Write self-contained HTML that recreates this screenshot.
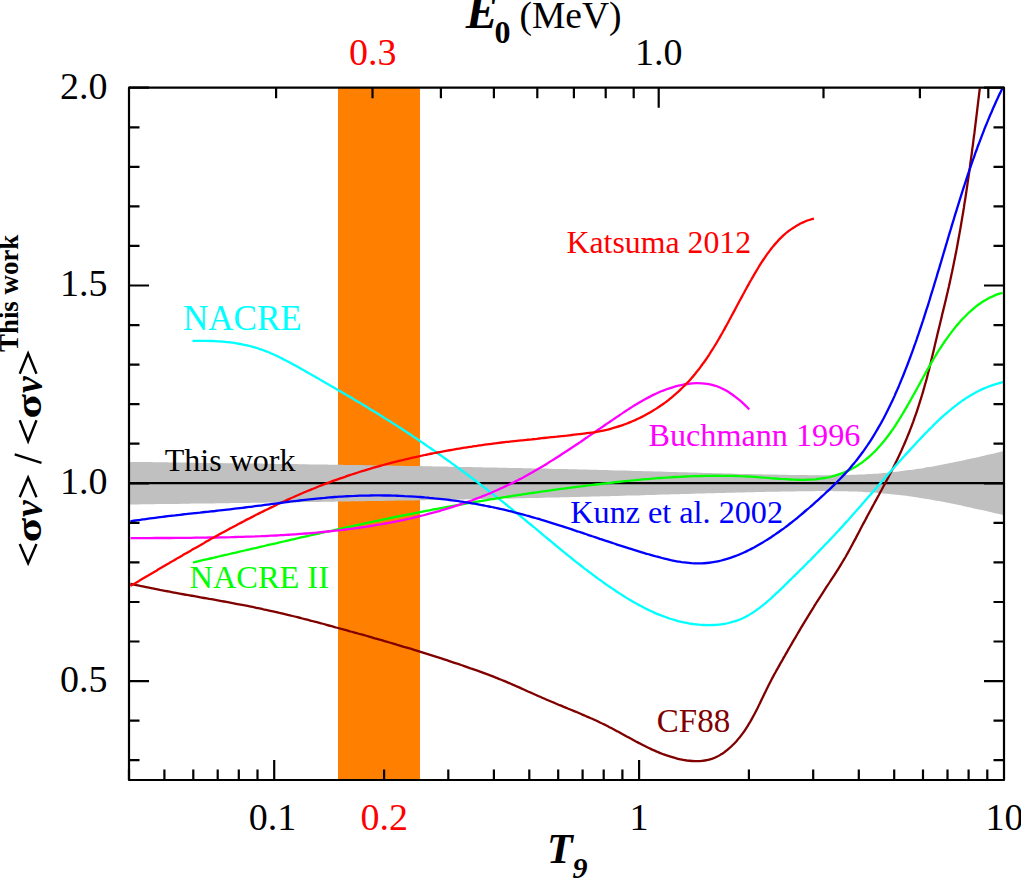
<!DOCTYPE html><html><head><meta charset="utf-8"><style>html,body{margin:0;padding:0;background:#fff;overflow:hidden}svg{display:block}text{font-family:"Liberation Serif",serif}</style></head><body>
<svg width="1021" height="878" viewBox="0 0 1021 878">
<rect x="338.0" y="87.7" width="82.0" height="692.3" fill="#FF8000"/>
<path d="M129.0,461.9 C129.8,461.9 132.3,461.9 134.0,461.9 C135.7,462.0 137.3,462.0 139.0,462.0 C140.7,462.0 142.3,462.0 144.0,462.1 C145.7,462.1 147.3,462.1 149.0,462.1 C150.7,462.2 152.3,462.2 154.0,462.2 C155.7,462.2 157.3,462.3 159.0,462.3 C160.7,462.3 162.3,462.3 164.0,462.3 C165.7,462.4 167.3,462.4 169.0,462.4 C170.7,462.4 172.3,462.5 174.0,462.5 C175.7,462.5 177.3,462.5 179.0,462.5 C180.7,462.6 182.3,462.6 184.0,462.6 C185.7,462.6 187.3,462.7 189.0,462.7 C190.7,462.7 192.3,462.7 194.0,462.8 C195.7,462.8 197.3,462.8 199.0,462.8 C200.7,462.8 202.3,462.9 204.0,462.9 C205.7,462.9 207.3,462.9 209.0,463.0 C210.7,463.0 212.3,463.0 214.0,463.0 C215.7,463.0 217.3,463.1 219.0,463.1 C220.7,463.1 222.3,463.1 224.0,463.2 C225.7,463.2 227.3,463.2 229.0,463.2 C230.7,463.3 232.3,463.3 234.0,463.3 C235.7,463.3 237.3,463.3 239.0,463.4 C240.7,463.4 242.3,463.4 244.0,463.4 C245.7,463.5 247.3,463.5 249.0,463.5 C250.7,463.5 252.3,463.6 254.0,463.6 C255.7,463.6 257.3,463.6 259.0,463.6 C260.7,463.7 262.3,463.7 264.0,463.7 C265.7,463.7 267.3,463.8 269.0,463.8 C270.7,463.8 272.3,463.8 274.0,463.9 C275.7,463.9 277.3,463.9 279.0,463.9 C280.7,464.0 282.3,464.0 284.0,464.0 C285.7,464.0 287.3,464.1 289.0,464.1 C290.7,464.1 292.3,464.1 294.0,464.1 C295.7,464.2 297.3,464.2 299.0,464.2 C300.7,464.2 302.3,464.3 304.0,464.3 C305.7,464.3 307.3,464.3 309.0,464.4 C310.7,464.4 312.3,464.4 314.0,464.4 C315.7,464.5 317.3,464.5 319.0,464.5 C320.7,464.5 322.3,464.6 324.0,464.6 C325.7,464.6 327.3,464.6 329.0,464.7 C330.7,464.7 332.3,464.7 334.0,464.7 C335.7,464.8 337.3,464.8 339.0,464.8 C340.7,464.8 342.3,464.9 344.0,464.9 C345.7,464.9 347.3,464.9 349.0,465.0 C350.7,465.0 352.3,465.0 354.0,465.1 C355.7,465.1 357.3,465.1 359.0,465.1 C360.7,465.2 362.3,465.2 364.0,465.2 C365.7,465.2 367.3,465.3 369.0,465.3 C370.7,465.3 372.3,465.3 374.0,465.4 C375.7,465.4 377.3,465.4 379.0,465.5 C380.7,465.5 382.3,465.5 384.0,465.5 C385.7,465.6 387.3,465.6 389.0,465.6 C390.7,465.6 392.3,465.7 394.0,465.7 C395.7,465.7 397.3,465.8 399.0,465.8 C400.7,465.8 402.3,465.8 404.0,465.9 C405.7,465.9 407.3,465.9 409.0,466.0 C410.7,466.0 412.3,466.0 414.0,466.0 C415.7,466.1 417.3,466.1 419.0,466.1 C420.7,466.2 422.3,466.2 424.0,466.2 C425.7,466.3 427.3,466.3 429.0,466.3 C430.7,466.3 432.3,466.4 434.0,466.4 C435.7,466.4 437.3,466.5 439.0,466.5 C440.7,466.5 442.3,466.6 444.0,466.6 C445.7,466.6 447.3,466.6 449.0,466.7 C450.7,466.7 452.3,466.7 454.0,466.8 C455.7,466.8 457.3,466.8 459.0,466.9 C460.7,466.9 462.3,466.9 464.0,467.0 C465.7,467.0 467.3,467.0 469.0,467.1 C470.7,467.1 472.3,467.1 474.0,467.2 C475.7,467.2 477.3,467.2 479.0,467.3 C480.7,467.3 482.3,467.3 484.0,467.4 C485.7,467.4 487.3,467.4 489.0,467.5 C490.7,467.5 492.3,467.5 494.0,467.6 C495.7,467.6 497.3,467.6 499.0,467.7 C500.7,467.7 502.3,467.7 504.0,467.8 C505.7,467.8 507.3,467.8 509.0,467.9 C510.7,467.9 512.3,467.9 514.0,468.0 C515.7,468.0 517.3,468.0 519.0,468.1 C520.7,468.1 522.3,468.2 524.0,468.2 C525.7,468.2 527.3,468.3 529.0,468.3 C530.7,468.3 532.3,468.4 534.0,468.4 C535.7,468.4 537.3,468.5 539.0,468.5 C540.7,468.6 542.3,468.6 544.0,468.6 C545.7,468.7 547.3,468.7 549.0,468.8 C550.7,468.8 552.3,468.8 554.0,468.9 C555.7,468.9 557.3,468.9 559.0,469.0 C560.7,469.0 562.3,469.1 564.0,469.1 C565.7,469.1 567.3,469.2 569.0,469.2 C570.7,469.3 572.3,469.3 574.0,469.3 C575.7,469.4 577.3,469.4 579.0,469.5 C580.7,469.5 582.3,469.5 584.0,469.6 C585.7,469.6 587.3,469.7 589.0,469.7 C590.7,469.8 592.3,469.8 594.0,469.8 C595.7,469.9 597.3,469.9 599.0,470.0 C600.7,470.0 602.3,470.1 604.0,470.1 C605.7,470.1 607.3,470.2 609.0,470.2 C610.7,470.3 612.3,470.3 614.0,470.4 C615.7,470.4 617.3,470.5 619.0,470.5 C620.7,470.5 622.3,470.6 624.0,470.6 C625.7,470.7 627.3,470.7 629.0,470.8 C630.7,470.8 632.3,470.9 634.0,470.9 C635.7,471.0 637.3,471.0 639.0,471.0 C640.7,471.1 642.3,471.1 644.0,471.2 C645.7,471.2 647.3,471.3 649.0,471.3 C650.7,471.4 652.3,471.4 654.0,471.5 C655.7,471.5 657.3,471.6 659.0,471.6 C660.7,471.7 662.3,471.7 664.0,471.8 C665.7,471.8 667.3,471.9 669.0,471.9 C670.7,472.0 672.3,472.0 674.0,472.1 C675.7,472.1 677.3,472.2 679.0,472.2 C680.7,472.3 682.3,472.3 684.0,472.3 C685.7,472.4 687.3,472.4 689.0,472.5 C690.7,472.5 692.3,472.6 694.0,472.6 C695.7,472.7 697.3,472.7 699.0,472.8 C700.7,472.8 702.3,472.9 704.0,472.9 C705.7,473.0 707.3,473.0 709.0,473.1 C710.7,473.1 712.3,473.2 714.0,473.2 C715.7,473.3 717.3,473.3 719.0,473.3 C720.7,473.4 722.3,473.4 724.0,473.5 C725.7,473.5 727.3,473.6 729.0,473.6 C730.7,473.7 732.3,473.7 734.0,473.7 C735.7,473.8 737.3,473.8 739.0,473.9 C740.7,473.9 742.3,473.9 744.0,474.0 C745.7,474.0 747.3,474.1 749.0,474.1 C750.7,474.1 752.3,474.2 754.0,474.2 C755.7,474.3 757.3,474.3 759.0,474.3 C760.7,474.4 762.3,474.4 764.0,474.4 C765.7,474.5 767.3,474.5 769.0,474.6 C770.7,474.6 772.3,474.6 774.0,474.6 C775.7,474.7 777.3,474.7 779.0,474.7 C780.7,474.8 782.3,474.8 784.0,474.8 C785.7,474.9 787.3,474.9 789.0,474.9 C790.7,474.9 792.3,475.0 794.0,475.0 C795.7,475.0 797.3,475.0 799.0,475.1 C800.7,475.1 802.3,475.1 804.0,475.1 C805.7,475.2 807.3,475.2 809.0,475.2 C810.7,475.2 812.3,475.2 814.0,475.2 C815.7,475.3 817.3,475.3 819.0,475.3 C820.7,475.3 822.3,475.3 824.0,475.3 C825.7,475.3 827.3,475.3 829.0,475.3 C830.7,475.3 832.3,475.3 834.0,475.2 C835.7,475.2 837.3,475.2 839.0,475.2 C840.7,475.2 842.3,475.1 844.0,475.1 C845.7,475.1 847.3,475.0 849.0,475.0 C850.7,474.9 852.3,474.9 854.0,474.8 C855.7,474.8 857.3,474.7 859.0,474.6 C860.7,474.5 862.3,474.5 864.0,474.4 C865.7,474.3 867.3,474.2 869.0,474.1 C870.7,474.0 872.3,473.9 874.0,473.8 C875.7,473.6 877.3,473.5 879.0,473.4 C880.7,473.2 882.3,473.1 884.0,472.9 C885.7,472.8 887.3,472.6 889.0,472.5 C890.7,472.3 892.3,472.1 894.0,472.0 C895.7,471.8 897.3,471.6 899.0,471.4 C900.7,471.2 902.3,471.0 904.0,470.8 C905.7,470.6 907.3,470.3 909.0,470.1 C910.7,469.9 912.3,469.7 914.0,469.4 C915.7,469.2 917.3,468.9 919.0,468.7 C920.7,468.4 922.3,468.2 924.0,467.9 C925.7,467.6 927.3,467.3 929.0,467.1 C930.7,466.8 932.3,466.5 934.0,466.2 C935.7,465.9 937.3,465.6 939.0,465.3 C940.7,465.0 942.3,464.6 944.0,464.3 C945.7,464.0 947.3,463.7 949.0,463.3 C950.7,463.0 952.3,462.7 954.0,462.3 C955.7,462.0 957.3,461.6 959.0,461.3 C960.7,460.9 962.3,460.6 964.0,460.2 C965.7,459.9 967.3,459.5 969.0,459.1 C970.7,458.8 972.3,458.4 974.0,458.0 C975.7,457.7 977.3,457.3 979.0,456.9 C980.7,456.5 982.3,456.2 984.0,455.8 C985.7,455.4 987.3,455.0 989.0,454.6 C990.7,454.2 992.3,453.9 994.0,453.5 C995.7,453.1 997.3,452.7 999.0,452.3 C1000.7,451.9 1003.2,451.3 1004.0,451.1 L1004.0,515.3 C1003.2,515.1 1000.7,514.5 999.0,514.1 C997.3,513.7 995.7,513.3 994.0,512.9 C992.3,512.5 990.7,512.2 989.0,511.8 C987.3,511.4 985.7,511.0 984.0,510.6 C982.3,510.2 980.7,509.9 979.0,509.5 C977.3,509.1 975.7,508.7 974.0,508.4 C972.3,508.0 970.7,507.6 969.0,507.3 C967.3,506.9 965.7,506.5 964.0,506.2 C962.3,505.8 960.7,505.5 959.0,505.1 C957.3,504.8 955.7,504.4 954.0,504.1 C952.3,503.7 950.7,503.4 949.0,503.1 C947.3,502.7 945.7,502.4 944.0,502.1 C942.3,501.8 940.7,501.4 939.0,501.1 C937.3,500.8 935.7,500.5 934.0,500.2 C932.3,499.9 930.7,499.6 929.0,499.3 C927.3,499.1 925.7,498.8 924.0,498.5 C922.3,498.2 920.7,498.0 919.0,497.7 C917.3,497.5 915.7,497.2 914.0,497.0 C912.3,496.7 910.7,496.5 909.0,496.3 C907.3,496.1 905.7,495.8 904.0,495.6 C902.3,495.4 900.7,495.2 899.0,495.0 C897.3,494.8 895.7,494.6 894.0,494.4 C892.3,494.3 890.7,494.1 889.0,493.9 C887.3,493.8 885.7,493.6 884.0,493.5 C882.3,493.3 880.7,493.2 879.0,493.0 C877.3,492.9 875.7,492.8 874.0,492.6 C872.3,492.5 870.7,492.4 869.0,492.3 C867.3,492.2 865.7,492.1 864.0,492.0 C862.3,491.9 860.7,491.9 859.0,491.8 C857.3,491.7 855.7,491.6 854.0,491.6 C852.3,491.5 850.7,491.5 849.0,491.4 C847.3,491.4 845.7,491.3 844.0,491.3 C842.3,491.3 840.7,491.2 839.0,491.2 C837.3,491.2 835.7,491.2 834.0,491.2 C832.3,491.1 830.7,491.1 829.0,491.1 C827.3,491.1 825.7,491.1 824.0,491.1 C822.3,491.1 820.7,491.1 819.0,491.1 C817.3,491.1 815.7,491.1 814.0,491.2 C812.3,491.2 810.7,491.2 809.0,491.2 C807.3,491.2 805.7,491.2 804.0,491.3 C802.3,491.3 800.7,491.3 799.0,491.3 C797.3,491.4 795.7,491.4 794.0,491.4 C792.3,491.4 790.7,491.5 789.0,491.5 C787.3,491.5 785.7,491.5 784.0,491.6 C782.3,491.6 780.7,491.6 779.0,491.7 C777.3,491.7 775.7,491.7 774.0,491.8 C772.3,491.8 770.7,491.8 769.0,491.8 C767.3,491.9 765.7,491.9 764.0,492.0 C762.3,492.0 760.7,492.0 759.0,492.1 C757.3,492.1 755.7,492.1 754.0,492.2 C752.3,492.2 750.7,492.3 749.0,492.3 C747.3,492.3 745.7,492.4 744.0,492.4 C742.3,492.5 740.7,492.5 739.0,492.5 C737.3,492.6 735.7,492.6 734.0,492.7 C732.3,492.7 730.7,492.7 729.0,492.8 C727.3,492.8 725.7,492.9 724.0,492.9 C722.3,493.0 720.7,493.0 719.0,493.1 C717.3,493.1 715.7,493.1 714.0,493.2 C712.3,493.2 710.7,493.3 709.0,493.3 C707.3,493.4 705.7,493.4 704.0,493.5 C702.3,493.5 700.7,493.6 699.0,493.6 C697.3,493.7 695.7,493.7 694.0,493.8 C692.3,493.8 690.7,493.9 689.0,493.9 C687.3,494.0 685.7,494.0 684.0,494.1 C682.3,494.1 680.7,494.1 679.0,494.2 C677.3,494.2 675.7,494.3 674.0,494.3 C672.3,494.4 670.7,494.4 669.0,494.5 C667.3,494.5 665.7,494.6 664.0,494.6 C662.3,494.7 660.7,494.7 659.0,494.8 C657.3,494.8 655.7,494.9 654.0,494.9 C652.3,495.0 650.7,495.0 649.0,495.1 C647.3,495.1 645.7,495.2 644.0,495.2 C642.3,495.3 640.7,495.3 639.0,495.4 C637.3,495.4 635.7,495.4 634.0,495.5 C632.3,495.5 630.7,495.6 629.0,495.6 C627.3,495.7 625.7,495.7 624.0,495.8 C622.3,495.8 620.7,495.9 619.0,495.9 C617.3,495.9 615.7,496.0 614.0,496.0 C612.3,496.1 610.7,496.1 609.0,496.2 C607.3,496.2 605.7,496.3 604.0,496.3 C602.3,496.3 600.7,496.4 599.0,496.4 C597.3,496.5 595.7,496.5 594.0,496.6 C592.3,496.6 590.7,496.6 589.0,496.7 C587.3,496.7 585.7,496.8 584.0,496.8 C582.3,496.9 580.7,496.9 579.0,496.9 C577.3,497.0 575.7,497.0 574.0,497.1 C572.3,497.1 570.7,497.1 569.0,497.2 C567.3,497.2 565.7,497.3 564.0,497.3 C562.3,497.3 560.7,497.4 559.0,497.4 C557.3,497.5 555.7,497.5 554.0,497.5 C552.3,497.6 550.7,497.6 549.0,497.6 C547.3,497.7 545.7,497.7 544.0,497.8 C542.3,497.8 540.7,497.8 539.0,497.9 C537.3,497.9 535.7,498.0 534.0,498.0 C532.3,498.0 530.7,498.1 529.0,498.1 C527.3,498.1 525.7,498.2 524.0,498.2 C522.3,498.2 520.7,498.3 519.0,498.3 C517.3,498.4 515.7,498.4 514.0,498.4 C512.3,498.5 510.7,498.5 509.0,498.5 C507.3,498.6 505.7,498.6 504.0,498.6 C502.3,498.7 500.7,498.7 499.0,498.7 C497.3,498.8 495.7,498.8 494.0,498.8 C492.3,498.9 490.7,498.9 489.0,498.9 C487.3,499.0 485.7,499.0 484.0,499.0 C482.3,499.1 480.7,499.1 479.0,499.1 C477.3,499.2 475.7,499.2 474.0,499.2 C472.3,499.3 470.7,499.3 469.0,499.3 C467.3,499.4 465.7,499.4 464.0,499.4 C462.3,499.5 460.7,499.5 459.0,499.5 C457.3,499.6 455.7,499.6 454.0,499.6 C452.3,499.7 450.7,499.7 449.0,499.7 C447.3,499.8 445.7,499.8 444.0,499.8 C442.3,499.8 440.7,499.9 439.0,499.9 C437.3,499.9 435.7,500.0 434.0,500.0 C432.3,500.0 430.7,500.1 429.0,500.1 C427.3,500.1 425.7,500.1 424.0,500.2 C422.3,500.2 420.7,500.2 419.0,500.3 C417.3,500.3 415.7,500.3 414.0,500.4 C412.3,500.4 410.7,500.4 409.0,500.4 C407.3,500.5 405.7,500.5 404.0,500.5 C402.3,500.6 400.7,500.6 399.0,500.6 C397.3,500.6 395.7,500.7 394.0,500.7 C392.3,500.7 390.7,500.8 389.0,500.8 C387.3,500.8 385.7,500.8 384.0,500.9 C382.3,500.9 380.7,500.9 379.0,500.9 C377.3,501.0 375.7,501.0 374.0,501.0 C372.3,501.1 370.7,501.1 369.0,501.1 C367.3,501.1 365.7,501.2 364.0,501.2 C362.3,501.2 360.7,501.2 359.0,501.3 C357.3,501.3 355.7,501.3 354.0,501.3 C352.3,501.4 350.7,501.4 349.0,501.4 C347.3,501.5 345.7,501.5 344.0,501.5 C342.3,501.5 340.7,501.6 339.0,501.6 C337.3,501.6 335.7,501.6 334.0,501.7 C332.3,501.7 330.7,501.7 329.0,501.7 C327.3,501.8 325.7,501.8 324.0,501.8 C322.3,501.8 320.7,501.9 319.0,501.9 C317.3,501.9 315.7,501.9 314.0,502.0 C312.3,502.0 310.7,502.0 309.0,502.0 C307.3,502.1 305.7,502.1 304.0,502.1 C302.3,502.1 300.7,502.2 299.0,502.2 C297.3,502.2 295.7,502.2 294.0,502.3 C292.3,502.3 290.7,502.3 289.0,502.3 C287.3,502.3 285.7,502.4 284.0,502.4 C282.3,502.4 280.7,502.4 279.0,502.5 C277.3,502.5 275.7,502.5 274.0,502.5 C272.3,502.6 270.7,502.6 269.0,502.6 C267.3,502.6 265.7,502.7 264.0,502.7 C262.3,502.7 260.7,502.7 259.0,502.8 C257.3,502.8 255.7,502.8 254.0,502.8 C252.3,502.8 250.7,502.9 249.0,502.9 C247.3,502.9 245.7,502.9 244.0,503.0 C242.3,503.0 240.7,503.0 239.0,503.0 C237.3,503.1 235.7,503.1 234.0,503.1 C232.3,503.1 230.7,503.1 229.0,503.2 C227.3,503.2 225.7,503.2 224.0,503.2 C222.3,503.3 220.7,503.3 219.0,503.3 C217.3,503.3 215.7,503.4 214.0,503.4 C212.3,503.4 210.7,503.4 209.0,503.4 C207.3,503.5 205.7,503.5 204.0,503.5 C202.3,503.5 200.7,503.6 199.0,503.6 C197.3,503.6 195.7,503.6 194.0,503.6 C192.3,503.7 190.7,503.7 189.0,503.7 C187.3,503.7 185.7,503.8 184.0,503.8 C182.3,503.8 180.7,503.8 179.0,503.9 C177.3,503.9 175.7,503.9 174.0,503.9 C172.3,503.9 170.7,504.0 169.0,504.0 C167.3,504.0 165.7,504.0 164.0,504.1 C162.3,504.1 160.7,504.1 159.0,504.1 C157.3,504.1 155.7,504.2 154.0,504.2 C152.3,504.2 150.7,504.2 149.0,504.3 C147.3,504.3 145.7,504.3 144.0,504.3 C142.3,504.4 140.7,504.4 139.0,504.4 C137.3,504.4 135.7,504.4 134.0,504.5 C132.3,504.5 129.8,504.5 129.0,504.5 Z" fill="#C0C0C0"/>
<line x1="129.0" y1="483.2" x2="1004.0" y2="483.2" stroke="#000" stroke-width="2.2"/>
<g fill="none" stroke-width="2.3" stroke-linejoin="round" stroke-linecap="butt">
<path d="M130.4,583.7 C131.2,583.9 133.7,584.4 135.3,584.8 C136.9,585.2 138.6,585.5 140.2,585.9 C141.8,586.2 143.5,586.6 145.1,586.9 C146.7,587.2 148.4,587.6 150.0,587.9 C151.6,588.2 153.3,588.6 154.9,588.9 C156.6,589.2 158.2,589.5 159.8,589.9 C161.5,590.2 163.1,590.5 164.8,590.8 C166.4,591.1 168.1,591.4 169.7,591.7 C171.3,592.1 173.0,592.4 174.6,592.7 C176.3,593.0 177.9,593.3 179.6,593.6 C181.2,593.9 182.8,594.2 184.5,594.5 C186.1,594.8 187.8,595.0 189.4,595.3 C191.1,595.6 192.7,595.9 194.4,596.2 C196.0,596.5 197.7,596.8 199.3,597.1 C200.9,597.4 202.6,597.7 204.2,598.0 C205.9,598.3 207.5,598.6 209.2,598.9 C210.8,599.1 212.5,599.4 214.1,599.7 C215.8,600.0 217.4,600.3 219.0,600.6 C220.7,600.9 222.3,601.2 224.0,601.5 C225.6,601.8 227.3,602.1 228.9,602.4 C230.5,602.7 232.2,603.0 233.8,603.3 C235.5,603.7 237.1,604.0 238.8,604.3 C240.4,604.6 242.0,604.9 243.7,605.2 C245.3,605.5 247.0,605.9 248.6,606.2 C250.2,606.5 251.9,606.9 253.5,607.2 C255.2,607.5 256.8,607.9 258.4,608.2 C260.1,608.6 261.7,608.9 263.3,609.3 C265.0,609.6 266.6,610.0 268.2,610.3 C269.9,610.7 271.5,611.1 273.1,611.4 C274.8,611.8 276.4,612.2 278.0,612.5 C279.6,612.9 281.3,613.3 282.9,613.7 C284.5,614.1 286.1,614.5 287.8,614.9 C289.4,615.2 291.0,615.6 292.6,616.0 C294.3,616.4 295.9,616.8 297.5,617.2 C299.1,617.7 300.7,618.1 302.4,618.5 C304.0,618.9 305.6,619.3 307.2,619.7 C308.8,620.1 310.5,620.6 312.1,621.0 C313.7,621.4 315.3,621.8 316.9,622.2 C318.5,622.7 320.2,623.1 321.8,623.5 C323.4,624.0 325.0,624.4 326.6,624.8 C328.2,625.3 329.8,625.7 331.5,626.1 C333.1,626.6 334.7,627.0 336.3,627.5 C337.9,627.9 339.5,628.3 341.1,628.8 C342.7,629.2 344.3,629.7 346.0,630.1 C347.6,630.6 349.2,631.0 350.8,631.5 C352.4,631.9 354.0,632.4 355.6,632.8 C357.2,633.3 358.8,633.7 360.4,634.2 C362.1,634.6 363.7,635.1 365.3,635.5 C366.9,636.0 368.5,636.4 370.1,636.9 C371.7,637.4 373.3,637.8 374.9,638.3 C376.5,638.7 378.1,639.2 379.7,639.7 C381.3,640.1 382.9,640.6 384.5,641.1 C386.2,641.5 387.8,642.0 389.4,642.5 C391.0,643.0 392.6,643.4 394.2,643.9 C395.8,644.4 397.4,644.8 399.0,645.3 C400.6,645.8 402.2,646.3 403.8,646.8 C405.4,647.2 407.0,647.7 408.6,648.2 C410.2,648.7 411.8,649.2 413.4,649.6 C415.0,650.1 416.6,650.6 418.2,651.1 C419.8,651.6 421.4,652.1 423.0,652.6 C424.6,653.1 426.2,653.6 427.8,654.1 C429.4,654.6 430.9,655.1 432.5,655.6 C434.1,656.1 435.7,656.6 437.3,657.1 C438.9,657.6 440.5,658.1 442.1,658.6 C443.7,659.2 445.3,659.7 446.9,660.2 C448.4,660.7 450.0,661.2 451.6,661.8 C453.2,662.3 454.8,662.8 456.4,663.4 C458.0,663.9 459.5,664.4 461.1,665.0 C462.7,665.5 464.3,666.1 465.9,666.6 C467.4,667.2 469.0,667.7 470.6,668.3 C472.2,668.8 473.7,669.4 475.3,669.9 C476.9,670.5 478.5,671.1 480.0,671.6 C481.6,672.2 483.2,672.8 484.7,673.4 C486.3,674.0 487.9,674.5 489.4,675.1 C491.0,675.7 492.6,676.3 494.1,676.9 C495.7,677.5 497.2,678.2 498.8,678.8 C500.3,679.4 501.9,680.0 503.4,680.7 C505.0,681.3 506.5,681.9 508.1,682.6 C509.6,683.2 511.1,683.9 512.7,684.6 C514.2,685.2 515.7,685.9 517.3,686.6 C518.8,687.2 520.3,687.9 521.8,688.6 C523.4,689.3 524.9,690.0 526.4,690.7 C527.9,691.4 529.4,692.1 531.0,692.7 C532.5,693.4 534.0,694.1 535.5,694.8 C537.1,695.5 538.6,696.2 540.1,696.8 C541.7,697.5 543.2,698.2 544.7,698.8 C546.3,699.5 547.8,700.2 549.3,700.8 C550.9,701.5 552.4,702.1 554.0,702.7 C555.5,703.4 557.0,704.0 558.6,704.7 C560.1,705.3 561.7,705.9 563.2,706.6 C564.8,707.2 566.3,707.8 567.9,708.5 C569.4,709.1 571.0,709.8 572.5,710.4 C574.0,711.0 575.6,711.7 577.1,712.3 C578.7,713.0 580.2,713.6 581.7,714.3 C583.3,714.9 584.8,715.6 586.3,716.3 C587.9,716.9 589.4,717.6 590.9,718.3 C592.5,719.0 594.0,719.6 595.5,720.3 C597.0,721.0 598.5,721.7 600.0,722.5 C601.6,723.2 603.1,723.9 604.6,724.6 C606.1,725.4 607.6,726.1 609.0,726.9 C610.5,727.7 612.0,728.4 613.5,729.2 C615.0,730.0 616.4,730.8 617.9,731.6 C619.4,732.4 620.9,733.2 622.3,734.0 C623.8,734.8 625.3,735.6 626.7,736.4 C628.2,737.2 629.6,738.0 631.1,738.8 C632.6,739.6 634.1,740.4 635.5,741.2 C637.0,742.0 638.5,742.7 640.0,743.5 C641.4,744.3 642.9,745.1 644.4,745.8 C645.9,746.6 647.4,747.3 648.9,748.0 C650.4,748.7 651.9,749.5 653.5,750.1 C655.0,750.8 656.5,751.5 658.1,752.1 C659.6,752.8 661.1,753.4 662.7,754.0 C664.3,754.6 665.8,755.2 667.4,755.7 C669.0,756.3 670.6,756.8 672.2,757.2 C673.8,757.7 675.4,758.2 677.0,758.6 C678.7,759.0 680.3,759.3 681.9,759.6 C683.6,759.9 685.2,760.2 686.9,760.5 C688.5,760.7 690.2,760.9 691.9,761.0 C693.5,761.1 695.2,761.2 696.9,761.1 C698.5,761.1 700.2,761.1 701.9,760.9 C703.5,760.7 705.2,760.5 706.8,760.1 C708.5,759.8 710.1,759.4 711.7,758.9 C713.3,758.3 714.8,757.7 716.3,757.0 C717.8,756.3 719.3,755.5 720.7,754.6 C722.2,753.8 723.6,752.8 724.9,751.8 C726.3,750.8 727.6,749.8 728.8,748.7 C730.1,747.6 731.3,746.5 732.5,745.3 C733.7,744.1 734.9,742.9 736.0,741.7 C737.1,740.4 738.2,739.2 739.2,737.9 C740.3,736.6 741.3,735.3 742.3,733.9 C743.3,732.6 744.3,731.2 745.2,729.8 C746.1,728.4 747.0,727.0 747.9,725.6 C748.8,724.2 749.6,722.7 750.5,721.3 C751.3,719.8 752.1,718.4 752.9,716.9 C753.7,715.5 754.5,714.0 755.3,712.5 C756.1,711.0 756.8,709.5 757.6,708.0 C758.3,706.5 759.0,705.0 759.8,703.5 C760.5,702.0 761.2,700.5 761.9,699.0 C762.7,697.5 763.4,696.0 764.1,694.5 C764.8,693.0 765.6,691.5 766.3,690.0 C767.0,688.5 767.8,687.0 768.5,685.5 C769.3,684.0 770.0,682.5 770.8,681.0 C771.6,679.5 772.3,678.0 773.1,676.6 C773.9,675.1 774.7,673.6 775.5,672.2 C776.3,670.7 777.1,669.2 778.0,667.8 C778.8,666.3 779.6,664.9 780.4,663.4 C781.3,662.0 782.1,660.5 782.9,659.1 C783.7,657.6 784.6,656.2 785.4,654.7 C786.2,653.3 787.1,651.8 787.9,650.4 C788.7,648.9 789.6,647.5 790.4,646.0 C791.2,644.6 792.1,643.1 792.9,641.7 C793.8,640.2 794.6,638.8 795.5,637.4 C796.3,635.9 797.1,634.5 798.0,633.0 C798.8,631.6 799.7,630.2 800.5,628.7 C801.4,627.3 802.3,625.9 803.1,624.4 C804.0,623.0 804.8,621.6 805.7,620.1 C806.6,618.7 807.4,617.3 808.3,615.8 C809.2,614.4 810.1,613.0 810.9,611.6 C811.8,610.1 812.7,608.7 813.6,607.3 C814.4,605.9 815.3,604.5 816.2,603.0 C817.1,601.6 818.0,600.2 818.9,598.8 C819.8,597.4 820.7,596.0 821.6,594.6 C822.5,593.2 823.4,591.8 824.3,590.4 C825.2,589.0 826.1,587.6 827.0,586.2 C828.0,584.8 828.9,583.4 829.8,582.0 C830.7,580.6 831.6,579.2 832.5,577.8 C833.5,576.4 834.4,575.0 835.3,573.6 C836.2,572.2 837.1,570.8 838.0,569.3 C838.9,567.9 839.8,566.5 840.6,565.1 C841.5,563.7 842.4,562.2 843.2,560.8 C844.1,559.4 844.9,557.9 845.8,556.5 C846.6,555.0 847.4,553.6 848.2,552.1 C849.0,550.7 849.8,549.2 850.6,547.7 C851.4,546.2 852.2,544.8 853.0,543.3 C853.8,541.8 854.6,540.3 855.4,538.9 C856.1,537.4 856.9,535.9 857.7,534.4 C858.5,532.9 859.2,531.5 860.0,530.0 C860.8,528.5 861.5,527.0 862.3,525.5 C863.1,524.1 863.9,522.6 864.7,521.1 C865.5,519.6 866.3,518.2 867.0,516.7 C867.8,515.2 868.6,513.8 869.4,512.3 C870.2,510.8 871.0,509.3 871.8,507.9 C872.6,506.4 873.4,504.9 874.2,503.5 C875.0,502.0 875.8,500.5 876.6,499.1 C877.4,497.6 878.2,496.1 879.0,494.7 C879.8,493.2 880.6,491.7 881.4,490.3 C882.2,488.8 883.0,487.3 883.8,485.8 C884.6,484.4 885.4,482.9 886.1,481.4 C886.9,479.9 887.7,478.5 888.5,477.0 C889.2,475.5 890.0,474.0 890.8,472.5 C891.5,471.0 892.3,469.5 893.1,468.1 C893.8,466.6 894.5,465.1 895.3,463.6 C896.0,462.1 896.8,460.6 897.5,459.1 C898.2,457.6 898.9,456.0 899.6,454.5 C900.3,453.0 901.0,451.5 901.7,450.0 C902.4,448.4 903.1,446.9 903.7,445.4 C904.4,443.9 905.1,442.3 905.7,440.8 C906.4,439.2 907.0,437.7 907.6,436.1 C908.3,434.6 908.9,433.0 909.5,431.5 C910.1,429.9 910.7,428.4 911.3,426.8 C911.9,425.2 912.5,423.7 913.1,422.1 C913.6,420.5 914.2,419.0 914.7,417.4 C915.3,415.8 915.9,414.2 916.4,412.7 C916.9,411.1 917.5,409.5 918.0,407.9 C918.5,406.3 919.0,404.7 919.5,403.1 C920.0,401.5 920.5,399.9 921.0,398.3 C921.5,396.8 922.0,395.2 922.5,393.5 C923.0,391.9 923.4,390.3 923.9,388.7 C924.3,387.1 924.8,385.5 925.2,383.9 C925.7,382.3 926.1,380.7 926.6,379.1 C927.0,377.5 927.4,375.8 927.8,374.2 C928.2,372.6 928.7,371.0 929.1,369.4 C929.5,367.7 929.9,366.1 930.3,364.5 C930.7,362.9 931.1,361.2 931.5,359.6 C931.8,358.0 932.2,356.4 932.6,354.7 C933.0,353.1 933.4,351.5 933.8,349.9 C934.2,348.2 934.5,346.6 934.9,345.0 C935.3,343.4 935.7,341.7 936.1,340.1 C936.5,338.5 936.8,336.9 937.2,335.2 C937.6,333.6 938.0,332.0 938.4,330.4 C938.8,328.7 939.2,327.1 939.6,325.5 C940.0,323.9 940.4,322.2 940.8,320.6 C941.2,319.0 941.6,317.4 941.9,315.7 C942.3,314.1 942.7,312.5 943.1,310.9 C943.5,309.2 943.9,307.6 944.3,306.0 C944.7,304.4 945.1,302.7 945.5,301.1 C945.9,299.5 946.2,297.9 946.6,296.2 C947.0,294.6 947.4,293.0 947.8,291.3 C948.1,289.7 948.5,288.1 948.9,286.5 C949.2,284.8 949.6,283.2 950.0,281.6 C950.3,279.9 950.7,278.3 951.0,276.7 C951.4,275.0 951.7,273.4 952.1,271.8 C952.4,270.1 952.8,268.5 953.1,266.9 C953.4,265.2 953.8,263.6 954.1,261.9 C954.4,260.3 954.8,258.7 955.1,257.0 C955.4,255.4 955.7,253.7 956.1,252.1 C956.4,250.5 956.7,248.8 957.0,247.2 C957.3,245.5 957.6,243.9 957.9,242.3 C958.2,240.6 958.5,239.0 958.8,237.3 C959.1,235.7 959.4,234.0 959.7,232.4 C960.0,230.7 960.3,229.1 960.6,227.4 C960.9,225.8 961.1,224.2 961.4,222.5 C961.7,220.9 962.0,219.2 962.2,217.6 C962.5,215.9 962.8,214.3 963.1,212.6 C963.3,211.0 963.6,209.3 963.9,207.7 C964.1,206.0 964.4,204.4 964.6,202.7 C964.9,201.1 965.2,199.4 965.4,197.8 C965.7,196.1 965.9,194.5 966.2,192.8 C966.4,191.1 966.7,189.5 966.9,187.8 C967.2,186.2 967.4,184.5 967.6,182.9 C967.9,181.2 968.1,179.6 968.4,177.9 C968.6,176.3 968.8,174.6 969.1,173.0 C969.3,171.3 969.5,169.6 969.8,168.0 C970.0,166.3 970.2,164.7 970.4,163.0 C970.7,161.4 970.9,159.7 971.1,158.1 C971.3,156.4 971.6,154.7 971.8,153.1 C972.0,151.4 972.2,149.8 972.4,148.1 C972.7,146.5 972.9,144.8 973.1,143.1 C973.3,141.5 973.5,139.8 973.7,138.2 C973.9,136.5 974.1,134.9 974.4,133.2 C974.6,131.5 974.8,129.9 975.0,128.2 C975.2,126.6 975.4,124.9 975.6,123.2 C975.8,121.6 976.0,119.9 976.2,118.3 C976.4,116.6 976.6,115.0 976.8,113.3 C977.0,111.6 977.2,110.0 977.4,108.3 C977.6,106.7 977.8,105.0 978.0,103.3 C978.2,101.7 978.4,100.0 978.6,98.4 C978.8,96.7 979.0,95.0 979.2,93.4 C979.4,91.7 979.7,89.2 979.8,88.4" stroke="#800000"/>
<path d="M192.5,341.0 C193.3,341.0 195.8,340.9 197.5,340.9 C199.2,340.9 200.8,340.8 202.5,340.8 C204.2,340.8 205.8,340.8 207.5,340.9 C209.2,340.9 210.8,340.9 212.5,341.0 C214.2,341.1 215.8,341.2 217.5,341.3 C219.2,341.4 220.8,341.5 222.5,341.6 C224.2,341.8 225.8,341.9 227.5,342.1 C229.1,342.3 230.8,342.5 232.4,342.7 C234.1,342.9 235.7,343.2 237.4,343.5 C239.0,343.7 240.7,344.0 242.3,344.4 C243.9,344.7 245.6,345.0 247.2,345.4 C248.8,345.8 250.4,346.2 252.0,346.6 C253.7,347.1 255.3,347.5 256.8,348.0 C258.4,348.5 260.0,349.1 261.6,349.6 C263.2,350.2 264.7,350.8 266.3,351.4 C267.8,352.0 269.4,352.6 270.9,353.3 C272.4,353.9 274.0,354.6 275.5,355.3 C277.0,356.0 278.5,356.7 280.0,357.5 C281.5,358.2 283.0,359.0 284.5,359.7 C285.9,360.5 287.4,361.3 288.9,362.0 C290.4,362.8 291.8,363.6 293.3,364.4 C294.8,365.2 296.2,366.0 297.7,366.8 C299.1,367.7 300.6,368.5 302.0,369.3 C303.5,370.1 304.9,371.0 306.4,371.8 C307.8,372.6 309.3,373.4 310.7,374.3 C312.2,375.1 313.6,375.9 315.1,376.7 C316.5,377.6 318.0,378.4 319.4,379.2 C320.9,380.0 322.3,380.9 323.7,381.7 C325.2,382.5 326.6,383.4 328.1,384.2 C329.5,385.0 331.0,385.9 332.4,386.7 C333.9,387.6 335.3,388.4 336.7,389.2 C338.2,390.1 339.6,390.9 341.1,391.8 C342.5,392.6 343.9,393.4 345.4,394.3 C346.8,395.1 348.2,396.0 349.7,396.8 C351.1,397.7 352.6,398.5 354.0,399.4 C355.4,400.2 356.9,401.1 358.3,401.9 C359.7,402.8 361.1,403.7 362.6,404.5 C364.0,405.4 365.4,406.2 366.9,407.1 C368.3,408.0 369.7,408.8 371.1,409.7 C372.6,410.6 374.0,411.4 375.4,412.3 C376.8,413.2 378.2,414.1 379.7,414.9 C381.1,415.8 382.5,416.7 383.9,417.6 C385.3,418.5 386.7,419.4 388.1,420.2 C389.5,421.1 391.0,422.0 392.4,422.9 C393.8,423.8 395.2,424.7 396.6,425.6 C398.0,426.5 399.4,427.4 400.8,428.3 C402.2,429.2 403.6,430.1 405.0,431.0 C406.4,432.0 407.8,432.9 409.2,433.8 C410.6,434.7 411.9,435.6 413.3,436.6 C414.7,437.5 416.1,438.4 417.5,439.3 C418.9,440.3 420.3,441.2 421.6,442.1 C423.0,443.1 424.4,444.0 425.8,445.0 C427.1,445.9 428.5,446.8 429.9,447.8 C431.3,448.7 432.6,449.7 434.0,450.6 C435.4,451.6 436.7,452.6 438.1,453.5 C439.5,454.5 440.8,455.4 442.2,456.4 C443.6,457.4 444.9,458.3 446.3,459.3 C447.6,460.3 449.0,461.2 450.3,462.2 C451.7,463.2 453.0,464.2 454.4,465.1 C455.7,466.1 457.1,467.1 458.4,468.1 C459.8,469.1 461.1,470.1 462.5,471.0 C463.8,472.0 465.2,473.0 466.5,474.0 C467.8,475.0 469.2,476.0 470.5,477.0 C471.8,478.0 473.2,479.0 474.5,480.0 C475.8,481.0 477.2,482.0 478.5,483.0 C479.8,484.0 481.1,485.1 482.5,486.1 C483.8,487.1 485.1,488.1 486.4,489.1 C487.8,490.1 489.1,491.2 490.4,492.2 C491.7,493.2 493.0,494.2 494.3,495.2 C495.7,496.3 497.0,497.3 498.3,498.3 C499.6,499.4 500.9,500.4 502.2,501.4 C503.5,502.5 504.8,503.5 506.1,504.5 C507.4,505.6 508.7,506.6 510.0,507.7 C511.3,508.7 512.6,509.8 513.9,510.8 C515.2,511.9 516.5,512.9 517.8,514.0 C519.1,515.0 520.4,516.1 521.7,517.1 C523.0,518.2 524.3,519.2 525.6,520.3 C526.8,521.4 528.1,522.4 529.4,523.5 C530.7,524.5 532.0,525.6 533.3,526.7 C534.6,527.7 535.8,528.8 537.1,529.9 C538.4,530.9 539.7,532.0 541.0,533.1 C542.2,534.1 543.5,535.2 544.8,536.3 C546.1,537.3 547.4,538.4 548.7,539.5 C549.9,540.5 551.2,541.6 552.5,542.7 C553.8,543.7 555.1,544.8 556.4,545.8 C557.7,546.9 558.9,548.0 560.2,549.0 C561.5,550.1 562.8,551.1 564.1,552.2 C565.4,553.2 566.7,554.3 568.0,555.3 C569.3,556.4 570.6,557.4 571.9,558.5 C573.2,559.5 574.5,560.6 575.8,561.6 C577.1,562.6 578.4,563.7 579.7,564.7 C581.1,565.7 582.4,566.7 583.7,567.8 C585.0,568.8 586.3,569.8 587.7,570.8 C589.0,571.8 590.3,572.8 591.7,573.8 C593.0,574.8 594.3,575.8 595.7,576.8 C597.0,577.8 598.4,578.8 599.7,579.8 C601.1,580.7 602.4,581.7 603.8,582.7 C605.1,583.6 606.5,584.6 607.9,585.6 C609.2,586.5 610.6,587.5 612.0,588.4 C613.4,589.3 614.7,590.3 616.1,591.2 C617.5,592.1 618.9,593.0 620.3,593.9 C621.7,594.8 623.1,595.7 624.5,596.6 C626.0,597.5 627.4,598.4 628.8,599.2 C630.2,600.1 631.7,600.9 633.1,601.8 C634.6,602.6 636.0,603.4 637.5,604.2 C638.9,605.0 640.4,605.8 641.9,606.6 C643.3,607.4 644.8,608.1 646.3,608.9 C647.8,609.6 649.3,610.3 650.8,611.0 C652.3,611.8 653.9,612.4 655.4,613.1 C656.9,613.8 658.5,614.4 660.0,615.0 C661.6,615.6 663.1,616.2 664.7,616.8 C666.3,617.4 667.8,617.9 669.4,618.5 C671.0,619.0 672.6,619.5 674.2,619.9 C675.8,620.4 677.4,620.8 679.0,621.3 C680.6,621.7 682.3,622.0 683.9,622.4 C685.5,622.7 687.2,623.1 688.8,623.4 C690.4,623.6 692.1,623.9 693.7,624.1 C695.4,624.3 697.1,624.5 698.7,624.7 C700.4,624.8 702.0,624.9 703.7,625.0 C705.4,625.1 707.0,625.1 708.7,625.1 C710.4,625.1 712.0,625.1 713.7,625.0 C715.4,624.9 717.0,624.8 718.7,624.6 C720.4,624.4 722.0,624.2 723.7,624.0 C725.3,623.7 726.9,623.4 728.6,623.0 C730.2,622.6 731.8,622.2 733.4,621.7 C735.0,621.2 736.6,620.7 738.1,620.1 C739.7,619.5 741.2,618.9 742.8,618.2 C744.3,617.5 745.8,616.7 747.2,615.9 C748.7,615.1 750.1,614.3 751.5,613.4 C753.0,612.5 754.3,611.6 755.7,610.7 C757.1,609.7 758.4,608.7 759.8,607.7 C761.1,606.7 762.4,605.7 763.7,604.6 C765.0,603.6 766.3,602.5 767.5,601.4 C768.8,600.3 770.0,599.2 771.3,598.1 C772.5,597.0 773.7,595.8 774.9,594.7 C776.2,593.6 777.4,592.4 778.6,591.3 C779.8,590.1 781.0,588.9 782.2,587.8 C783.4,586.6 784.6,585.5 785.8,584.3 C787.0,583.1 788.2,582.0 789.3,580.8 C790.5,579.6 791.7,578.5 792.9,577.3 C794.1,576.1 795.3,575.0 796.5,573.8 C797.7,572.6 798.9,571.5 800.0,570.3 C801.2,569.1 802.4,567.9 803.6,566.8 C804.8,565.6 806.0,564.4 807.1,563.2 C808.3,562.0 809.5,560.9 810.7,559.7 C811.8,558.5 813.0,557.3 814.2,556.1 C815.3,554.9 816.5,553.7 817.7,552.5 C818.8,551.3 820.0,550.1 821.2,548.9 C822.3,547.8 823.5,546.6 824.6,545.3 C825.8,544.1 826.9,542.9 828.1,541.7 C829.2,540.5 830.4,539.3 831.5,538.1 C832.7,536.9 833.8,535.7 835.0,534.5 C836.1,533.2 837.2,532.0 838.4,530.8 C839.5,529.6 840.6,528.3 841.8,527.1 C842.9,525.9 844.0,524.6 845.1,523.4 C846.2,522.2 847.4,520.9 848.5,519.7 C849.6,518.4 850.7,517.2 851.8,516.0 C852.9,514.7 854.0,513.5 855.1,512.2 C856.2,511.0 857.3,509.7 858.4,508.5 C859.5,507.2 860.6,505.9 861.7,504.7 C862.8,503.4 863.9,502.2 865.0,500.9 C866.1,499.7 867.2,498.4 868.3,497.1 C869.4,495.9 870.5,494.6 871.6,493.4 C872.7,492.1 873.8,490.9 874.9,489.6 C876.0,488.3 877.0,487.1 878.1,485.8 C879.2,484.6 880.3,483.3 881.4,482.0 C882.5,480.8 883.6,479.5 884.7,478.3 C885.8,477.0 886.9,475.7 888.0,474.5 C889.1,473.2 890.2,472.0 891.3,470.7 C892.4,469.5 893.5,468.2 894.6,467.0 C895.7,465.7 896.8,464.5 897.9,463.2 C899.0,462.0 900.1,460.7 901.2,459.5 C902.3,458.2 903.5,457.0 904.6,455.8 C905.7,454.5 906.8,453.3 907.9,452.1 C909.1,450.8 910.2,449.6 911.3,448.4 C912.4,447.1 913.6,445.9 914.7,444.7 C915.8,443.5 917.0,442.3 918.1,441.0 C919.3,439.8 920.4,438.6 921.6,437.4 C922.7,436.2 923.9,435.0 925.0,433.8 C926.2,432.6 927.4,431.4 928.5,430.2 C929.7,429.0 930.9,427.9 932.1,426.7 C933.2,425.5 934.4,424.3 935.6,423.2 C936.8,422.0 938.0,420.9 939.2,419.7 C940.5,418.6 941.7,417.4 942.9,416.3 C944.2,415.2 945.4,414.1 946.7,413.0 C947.9,411.9 949.2,410.8 950.5,409.8 C951.8,408.7 953.0,407.6 954.4,406.6 C955.7,405.6 957.0,404.6 958.3,403.6 C959.7,402.6 961.0,401.6 962.4,400.6 C963.8,399.7 965.2,398.8 966.6,397.9 C968.0,397.0 969.4,396.1 970.8,395.2 C972.2,394.4 973.7,393.6 975.2,392.8 C976.6,392.0 978.1,391.2 979.6,390.5 C981.1,389.7 982.6,389.0 984.1,388.4 C985.7,387.7 987.2,387.1 988.8,386.5 C990.3,385.9 991.9,385.3 993.5,384.8 C995.1,384.3 996.7,383.8 998.3,383.3 C999.9,382.9 1002.3,382.3 1003.1,382.1" stroke="#00FFFF"/>
<path d="M193.0,562.5 C193.8,562.3 196.2,561.7 197.9,561.3 C199.5,561.0 201.1,560.6 202.7,560.2 C204.4,559.8 206.0,559.5 207.6,559.1 C209.2,558.7 210.9,558.3 212.5,558.0 C214.1,557.6 215.7,557.2 217.4,556.8 C219.0,556.4 220.6,556.1 222.2,555.7 C223.9,555.3 225.5,554.9 227.1,554.6 C228.7,554.2 230.4,553.8 232.0,553.4 C233.6,553.0 235.2,552.7 236.9,552.3 C238.5,551.9 240.1,551.5 241.7,551.2 C243.4,550.8 245.0,550.4 246.6,550.0 C248.2,549.7 249.9,549.3 251.5,548.9 C253.1,548.5 254.7,548.1 256.4,547.8 C258.0,547.4 259.6,547.0 261.2,546.6 C262.9,546.3 264.5,545.9 266.1,545.5 C267.7,545.1 269.4,544.8 271.0,544.4 C272.6,544.0 274.2,543.6 275.9,543.3 C277.5,542.9 279.1,542.5 280.7,542.2 C282.4,541.8 284.0,541.4 285.6,541.0 C287.2,540.7 288.9,540.3 290.5,539.9 C292.1,539.5 293.7,539.2 295.4,538.8 C297.0,538.4 298.6,538.1 300.2,537.7 C301.9,537.3 303.5,537.0 305.1,536.6 C306.7,536.2 308.4,535.9 310.0,535.5 C311.6,535.1 313.3,534.8 314.9,534.4 C316.5,534.0 318.1,533.7 319.8,533.3 C321.4,532.9 323.0,532.6 324.6,532.2 C326.3,531.8 327.9,531.5 329.5,531.1 C331.2,530.8 332.8,530.4 334.4,530.0 C336.0,529.7 337.7,529.3 339.3,529.0 C340.9,528.6 342.6,528.2 344.2,527.9 C345.8,527.5 347.4,527.2 349.1,526.8 C350.7,526.5 352.3,526.1 354.0,525.8 C355.6,525.4 357.2,525.1 358.9,524.7 C360.5,524.4 362.1,524.0 363.8,523.7 C365.4,523.3 367.0,523.0 368.6,522.6 C370.3,522.3 371.9,521.9 373.5,521.6 C375.2,521.2 376.8,520.9 378.4,520.6 C380.1,520.2 381.7,519.9 383.3,519.5 C385.0,519.2 386.6,518.9 388.2,518.5 C389.9,518.2 391.5,517.8 393.1,517.5 C394.8,517.2 396.4,516.8 398.0,516.5 C399.7,516.2 401.3,515.8 402.9,515.5 C404.6,515.2 406.2,514.9 407.8,514.5 C409.5,514.2 411.1,513.9 412.8,513.6 C414.4,513.2 416.0,512.9 417.7,512.6 C419.3,512.3 420.9,511.9 422.6,511.6 C424.2,511.3 425.8,511.0 427.5,510.7 C429.1,510.4 430.8,510.1 432.4,509.7 C434.0,509.4 435.7,509.1 437.3,508.8 C439.0,508.5 440.6,508.2 442.2,507.9 C443.9,507.6 445.5,507.3 447.2,507.0 C448.8,506.7 450.4,506.4 452.1,506.1 C453.7,505.8 455.4,505.5 457.0,505.2 C458.6,504.9 460.3,504.6 461.9,504.3 C463.6,504.0 465.2,503.7 466.9,503.4 C468.5,503.1 470.1,502.9 471.8,502.6 C473.4,502.3 475.1,502.0 476.7,501.7 C478.4,501.4 480.0,501.2 481.6,500.9 C483.3,500.6 484.9,500.3 486.6,500.1 C488.2,499.8 489.9,499.5 491.5,499.2 C493.2,499.0 494.8,498.7 496.5,498.4 C498.1,498.2 499.7,497.9 501.4,497.7 C503.0,497.4 504.7,497.1 506.3,496.9 C508.0,496.6 509.6,496.4 511.3,496.1 C512.9,495.8 514.6,495.6 516.2,495.3 C517.9,495.1 519.5,494.8 521.2,494.6 C522.8,494.3 524.5,494.1 526.1,493.8 C527.8,493.6 529.4,493.4 531.1,493.1 C532.7,492.9 534.4,492.6 536.0,492.4 C537.7,492.2 539.3,491.9 541.0,491.7 C542.6,491.4 544.3,491.2 545.9,491.0 C547.6,490.8 549.2,490.5 550.9,490.3 C552.5,490.1 554.2,489.8 555.8,489.6 C557.5,489.4 559.1,489.2 560.8,488.9 C562.4,488.7 564.1,488.5 565.8,488.3 C567.4,488.1 569.1,487.9 570.7,487.6 C572.4,487.4 574.0,487.2 575.7,487.0 C577.3,486.8 579.0,486.6 580.6,486.4 C582.3,486.2 584.0,486.0 585.6,485.8 C587.3,485.5 588.9,485.3 590.6,485.1 C592.2,484.9 593.9,484.7 595.5,484.5 C597.2,484.3 598.9,484.1 600.5,484.0 C602.2,483.8 603.8,483.6 605.5,483.4 C607.1,483.2 608.8,483.0 610.5,482.8 C612.1,482.6 613.8,482.4 615.4,482.2 C617.1,482.1 618.7,481.9 620.4,481.7 C622.1,481.5 623.7,481.4 625.4,481.2 C627.0,481.0 628.7,480.8 630.4,480.7 C632.0,480.5 633.7,480.3 635.3,480.2 C637.0,480.0 638.6,479.9 640.3,479.7 C642.0,479.5 643.6,479.4 645.3,479.2 C647.0,479.1 648.6,479.0 650.3,478.8 C651.9,478.7 653.6,478.5 655.3,478.4 C656.9,478.3 658.6,478.1 660.3,478.0 C661.9,477.9 663.6,477.8 665.2,477.7 C666.9,477.5 668.6,477.4 670.2,477.3 C671.9,477.2 673.6,477.1 675.2,477.0 C676.9,476.9 678.6,476.8 680.2,476.8 C681.9,476.7 683.6,476.6 685.2,476.5 C686.9,476.4 688.6,476.4 690.2,476.3 C691.9,476.2 693.6,476.2 695.2,476.1 C696.9,476.1 698.6,476.0 700.2,476.0 C701.9,475.9 703.6,475.9 705.2,475.9 C706.9,475.8 708.6,475.8 710.2,475.8 C711.9,475.8 713.6,475.8 715.2,475.7 C716.9,475.7 718.6,475.7 720.2,475.8 C721.9,475.8 723.6,475.8 725.2,475.8 C726.9,475.8 728.6,475.8 730.2,475.9 C731.9,475.9 733.6,476.0 735.2,476.0 C736.9,476.1 738.6,476.1 740.2,476.2 C741.9,476.2 743.6,476.3 745.2,476.4 C746.9,476.5 748.6,476.5 750.2,476.6 C751.9,476.7 753.6,476.8 755.2,476.9 C756.9,477.1 758.6,477.2 760.2,477.3 C761.9,477.4 763.5,477.5 765.2,477.7 C766.9,477.8 768.5,477.9 770.2,478.1 C771.9,478.2 773.5,478.4 775.2,478.5 C776.8,478.6 778.5,478.7 780.2,478.9 C781.8,479.0 783.5,479.1 785.2,479.2 C786.8,479.3 788.5,479.4 790.2,479.5 C791.8,479.6 793.5,479.6 795.2,479.7 C796.8,479.7 798.5,479.8 800.2,479.8 C801.8,479.8 803.5,479.8 805.2,479.8 C806.8,479.7 808.5,479.7 810.2,479.6 C811.8,479.5 813.5,479.4 815.2,479.3 C816.8,479.1 818.5,478.9 820.1,478.7 C821.8,478.5 823.4,478.3 825.1,478.0 C826.7,477.7 828.4,477.4 830.0,477.0 C831.6,476.6 833.2,476.2 834.8,475.7 C836.4,475.3 838.0,474.8 839.6,474.2 C841.2,473.7 842.7,473.1 844.3,472.4 C845.8,471.8 847.3,471.1 848.8,470.4 C850.3,469.7 851.8,468.9 853.3,468.1 C854.7,467.3 856.2,466.4 857.6,465.5 C859.0,464.6 860.4,463.7 861.7,462.7 C863.1,461.7 864.4,460.7 865.7,459.7 C867.0,458.6 868.3,457.5 869.5,456.4 C870.7,455.3 872.0,454.2 873.2,453.0 C874.4,451.9 875.5,450.7 876.7,449.5 C877.8,448.2 878.9,447.0 880.0,445.8 C881.1,444.5 882.2,443.2 883.3,441.9 C884.3,440.7 885.4,439.3 886.4,438.0 C887.4,436.7 888.4,435.4 889.4,434.0 C890.4,432.7 891.3,431.3 892.3,430.0 C893.3,428.6 894.2,427.2 895.1,425.8 C896.0,424.4 896.9,423.0 897.8,421.6 C898.7,420.2 899.6,418.8 900.5,417.4 C901.4,416.0 902.2,414.5 903.1,413.1 C904.0,411.7 904.8,410.2 905.6,408.8 C906.5,407.4 907.3,405.9 908.1,404.5 C909.0,403.0 909.8,401.6 910.6,400.1 C911.4,398.7 912.2,397.2 913.1,395.7 C913.9,394.3 914.7,392.8 915.5,391.4 C916.3,389.9 917.1,388.4 917.9,387.0 C918.7,385.5 919.5,384.1 920.3,382.6 C921.1,381.1 921.9,379.7 922.7,378.2 C923.5,376.7 924.3,375.3 925.1,373.8 C925.9,372.4 926.7,370.9 927.5,369.5 C928.4,368.0 929.2,366.6 930.0,365.1 C930.8,363.7 931.7,362.2 932.5,360.8 C933.4,359.3 934.2,357.9 935.1,356.5 C935.9,355.1 936.8,353.6 937.7,352.2 C938.6,350.8 939.5,349.4 940.4,348.0 C941.3,346.6 942.2,345.2 943.1,343.8 C944.1,342.4 945.0,341.0 946.0,339.7 C946.9,338.3 947.9,337.0 948.9,335.6 C949.9,334.3 950.9,332.9 951.9,331.6 C952.9,330.3 953.9,329.0 955.0,327.7 C956.1,326.4 957.1,325.1 958.2,323.9 C959.3,322.6 960.4,321.4 961.5,320.1 C962.7,318.9 963.8,317.7 965.0,316.5 C966.1,315.3 967.3,314.1 968.5,313.0 C969.8,311.8 971.0,310.7 972.3,309.6 C973.5,308.5 974.8,307.5 976.1,306.4 C977.4,305.4 978.8,304.4 980.1,303.5 C981.5,302.5 982.9,301.6 984.3,300.7 C985.7,299.8 987.2,299.0 988.7,298.2 C990.1,297.5 991.6,296.7 993.2,296.1 C994.7,295.4 996.2,294.8 997.8,294.2 C999.4,293.7 1001.8,293.0 1002.6,292.8" stroke="#00FF00"/>
<path d="M130.5,538.2 C131.3,538.2 133.8,538.2 135.5,538.2 C137.1,538.2 138.8,538.1 140.5,538.1 C142.2,538.1 143.8,538.1 145.5,538.1 C147.2,538.1 148.8,538.1 150.5,538.1 C152.2,538.1 153.9,538.1 155.5,538.0 C157.2,538.0 158.9,538.0 160.5,538.0 C162.2,538.0 163.9,538.0 165.5,538.0 C167.2,538.0 168.9,538.0 170.6,538.0 C172.2,537.9 173.9,537.9 175.6,537.9 C177.2,537.9 178.9,537.9 180.6,537.9 C182.3,537.9 183.9,537.9 185.6,537.8 C187.3,537.8 188.9,537.8 190.6,537.8 C192.3,537.8 194.0,537.8 195.6,537.7 C197.3,537.7 199.0,537.7 200.6,537.7 C202.3,537.7 204.0,537.6 205.7,537.6 C207.3,537.6 209.0,537.6 210.7,537.5 C212.3,537.5 214.0,537.5 215.7,537.5 C217.3,537.4 219.0,537.4 220.7,537.4 C222.4,537.3 224.0,537.3 225.7,537.3 C227.4,537.2 229.0,537.2 230.7,537.2 C232.4,537.1 234.1,537.1 235.7,537.0 C237.4,537.0 239.1,536.9 240.7,536.9 C242.4,536.8 244.1,536.8 245.7,536.7 C247.4,536.7 249.1,536.6 250.8,536.6 C252.4,536.5 254.1,536.4 255.8,536.4 C257.4,536.3 259.1,536.2 260.8,536.2 C262.4,536.1 264.1,536.0 265.8,536.0 C267.5,535.9 269.1,535.8 270.8,535.7 C272.5,535.6 274.1,535.6 275.8,535.5 C277.5,535.4 279.1,535.3 280.8,535.2 C282.5,535.1 284.1,535.0 285.8,534.9 C287.5,534.8 289.1,534.7 290.8,534.6 C292.5,534.5 294.1,534.4 295.8,534.3 C297.5,534.1 299.2,534.0 300.8,533.9 C302.5,533.8 304.1,533.6 305.8,533.5 C307.5,533.4 309.1,533.2 310.8,533.1 C312.5,533.0 314.1,532.8 315.8,532.7 C317.5,532.5 319.1,532.4 320.8,532.2 C322.5,532.1 324.1,531.9 325.8,531.7 C327.5,531.6 329.1,531.4 330.8,531.2 C332.4,531.0 334.1,530.9 335.8,530.7 C337.4,530.5 339.1,530.3 340.7,530.1 C342.4,529.9 344.1,529.7 345.7,529.5 C347.4,529.3 349.0,529.1 350.7,528.9 C352.3,528.7 354.0,528.4 355.7,528.2 C357.3,528.0 359.0,527.7 360.6,527.5 C362.3,527.3 363.9,527.0 365.6,526.8 C367.2,526.5 368.9,526.3 370.5,526.0 C372.2,525.7 373.8,525.5 375.5,525.2 C377.1,524.9 378.8,524.6 380.4,524.4 C382.1,524.1 383.7,523.8 385.4,523.5 C387.0,523.2 388.7,522.9 390.3,522.6 C391.9,522.3 393.6,521.9 395.2,521.6 C396.9,521.3 398.5,521.0 400.1,520.6 C401.8,520.3 403.4,519.9 405.0,519.6 C406.7,519.2 408.3,518.9 409.9,518.5 C411.6,518.1 413.2,517.8 414.8,517.4 C416.4,517.0 418.1,516.6 419.7,516.2 C421.3,515.8 422.9,515.4 424.6,515.0 C426.2,514.6 427.8,514.2 429.4,513.7 C431.0,513.3 432.6,512.9 434.2,512.4 C435.9,512.0 437.5,511.5 439.1,511.1 C440.7,510.6 442.3,510.1 443.9,509.7 C445.5,509.2 447.1,508.7 448.7,508.2 C450.3,507.7 451.9,507.2 453.5,506.7 C455.1,506.2 456.6,505.7 458.2,505.2 C459.8,504.6 461.4,504.1 463.0,503.5 C464.6,503.0 466.1,502.4 467.7,501.9 C469.3,501.3 470.9,500.8 472.4,500.2 C474.0,499.6 475.6,499.0 477.1,498.4 C478.7,497.8 480.2,497.2 481.8,496.6 C483.3,496.0 484.9,495.3 486.4,494.7 C488.0,494.1 489.5,493.4 491.1,492.8 C492.6,492.1 494.1,491.5 495.7,490.8 C497.2,490.1 498.7,489.4 500.2,488.7 C501.8,488.1 503.3,487.4 504.8,486.6 C506.3,485.9 507.8,485.2 509.3,484.5 C510.8,483.8 512.3,483.0 513.8,482.3 C515.3,481.5 516.8,480.8 518.3,480.0 C519.8,479.2 521.2,478.4 522.7,477.7 C524.2,476.9 525.7,476.1 527.1,475.3 C528.6,474.5 530.0,473.6 531.5,472.8 C532.9,472.0 534.4,471.2 535.8,470.3 C537.3,469.5 538.7,468.6 540.2,467.8 C541.6,466.9 543.0,466.1 544.5,465.2 C545.9,464.3 547.3,463.5 548.7,462.6 C550.2,461.7 551.6,460.8 553.0,459.9 C554.4,459.1 555.8,458.2 557.2,457.3 C558.6,456.4 560.0,455.5 561.4,454.5 C562.9,453.6 564.3,452.7 565.6,451.8 C567.0,450.9 568.4,450.0 569.8,449.0 C571.2,448.1 572.6,447.2 574.0,446.3 C575.4,445.3 576.8,444.4 578.2,443.5 C579.5,442.5 580.9,441.6 582.3,440.7 C583.7,439.7 585.1,438.8 586.5,437.8 C587.8,436.9 589.2,435.9 590.6,435.0 C592.0,434.1 593.4,433.1 594.7,432.2 C596.1,431.2 597.5,430.3 598.9,429.3 C600.2,428.4 601.6,427.4 603.0,426.5 C604.4,425.5 605.7,424.6 607.1,423.6 C608.5,422.7 609.9,421.8 611.3,420.8 C612.6,419.9 614.0,418.9 615.4,418.0 C616.8,417.1 618.2,416.1 619.6,415.2 C620.9,414.2 622.3,413.3 623.7,412.4 C625.1,411.5 626.5,410.5 627.9,409.6 C629.3,408.7 630.7,407.8 632.1,406.9 C633.5,406.0 635.0,405.1 636.4,404.3 C637.8,403.4 639.2,402.6 640.7,401.7 C642.1,400.9 643.6,400.0 645.0,399.2 C646.5,398.4 648.0,397.6 649.5,396.9 C650.9,396.1 652.4,395.3 653.9,394.6 C655.5,393.9 657.0,393.2 658.5,392.5 C660.0,391.8 661.6,391.2 663.1,390.6 C664.7,390.0 666.2,389.4 667.8,388.8 C669.4,388.3 671.0,387.8 672.6,387.3 C674.2,386.8 675.8,386.3 677.4,385.9 C679.0,385.5 680.7,385.2 682.3,384.8 C683.9,384.5 685.6,384.2 687.2,384.0 C688.9,383.8 690.6,383.6 692.2,383.4 C693.9,383.3 695.6,383.2 697.2,383.2 C698.9,383.2 700.6,383.2 702.2,383.3 C703.9,383.4 705.6,383.6 707.2,383.8 C708.9,384.1 710.5,384.4 712.1,384.8 C713.8,385.2 715.4,385.7 716.9,386.3 C718.5,386.9 720.0,387.5 721.5,388.2 C723.1,389.0 724.5,389.7 726.0,390.6 C727.4,391.4 728.9,392.3 730.3,393.2 C731.7,394.1 733.0,395.1 734.4,396.1 C735.7,397.1 737.0,398.1 738.3,399.2 C739.6,400.2 740.9,401.3 742.1,402.4 C743.3,403.5 744.6,404.7 745.8,405.9 C747.0,407.0 748.7,408.8 749.3,409.4" stroke="#FF00FF"/>
<path d="M130.4,586.0 C131.1,585.6 133.3,584.3 134.7,583.4 C136.2,582.6 137.6,581.7 139.1,580.9 C140.5,580.0 141.9,579.2 143.4,578.3 C144.8,577.5 146.3,576.6 147.7,575.8 C149.2,574.9 150.6,574.1 152.0,573.2 C153.5,572.4 154.9,571.5 156.4,570.7 C157.8,569.8 159.3,568.9 160.7,568.1 C162.1,567.2 163.6,566.4 165.0,565.5 C166.5,564.7 167.9,563.8 169.4,563.0 C170.8,562.2 172.2,561.3 173.7,560.5 C175.1,559.6 176.6,558.8 178.0,557.9 C179.5,557.1 180.9,556.2 182.4,555.4 C183.8,554.5 185.3,553.7 186.7,552.9 C188.2,552.0 189.6,551.2 191.1,550.4 C192.5,549.5 194.0,548.7 195.4,547.9 C196.9,547.0 198.3,546.2 199.8,545.4 C201.3,544.5 202.7,543.7 204.2,542.9 C205.6,542.0 207.1,541.2 208.5,540.4 C210.0,539.6 211.5,538.8 212.9,537.9 C214.4,537.1 215.9,536.3 217.3,535.5 C218.8,534.7 220.3,533.9 221.7,533.1 C223.2,532.3 224.7,531.5 226.1,530.7 C227.6,529.9 229.1,529.1 230.5,528.3 C232.0,527.5 233.5,526.7 235.0,525.9 C236.5,525.1 237.9,524.3 239.4,523.5 C240.9,522.7 242.4,522.0 243.9,521.2 C245.3,520.4 246.8,519.6 248.3,518.9 C249.8,518.1 251.3,517.3 252.8,516.6 C254.3,515.8 255.8,515.0 257.3,514.3 C258.8,513.5 260.3,512.8 261.8,512.0 C263.3,511.3 264.8,510.5 266.3,509.8 C267.8,509.1 269.3,508.3 270.8,507.6 C272.3,506.9 273.8,506.2 275.3,505.4 C276.8,504.7 278.3,504.0 279.9,503.3 C281.4,502.6 282.9,501.9 284.4,501.2 C285.9,500.5 287.5,499.8 289.0,499.1 C290.5,498.4 292.0,497.7 293.6,497.0 C295.1,496.3 296.6,495.7 298.2,495.0 C299.7,494.3 301.2,493.7 302.8,493.0 C304.3,492.3 305.9,491.7 307.4,491.0 C309.0,490.4 310.5,489.8 312.1,489.1 C313.6,488.5 315.2,487.9 316.7,487.2 C318.3,486.6 319.8,486.0 321.4,485.4 C323.0,484.8 324.5,484.2 326.1,483.6 C327.6,483.0 329.2,482.4 330.8,481.8 C332.4,481.2 333.9,480.7 335.5,480.1 C337.1,479.5 338.7,479.0 340.2,478.4 C341.8,477.8 343.4,477.3 345.0,476.8 C346.6,476.2 348.2,475.7 349.8,475.1 C351.3,474.6 352.9,474.1 354.5,473.6 C356.1,473.1 357.7,472.6 359.3,472.0 C360.9,471.5 362.5,471.0 364.1,470.6 C365.7,470.1 367.3,469.6 368.9,469.1 C370.5,468.6 372.1,468.2 373.7,467.7 C375.4,467.2 377.0,466.8 378.6,466.3 C380.2,465.9 381.8,465.4 383.4,465.0 C385.0,464.5 386.7,464.1 388.3,463.7 C389.9,463.2 391.5,462.8 393.1,462.4 C394.8,462.0 396.4,461.6 398.0,461.2 C399.6,460.8 401.3,460.4 402.9,460.0 C404.5,459.6 406.2,459.2 407.8,458.8 C409.4,458.4 411.0,458.0 412.7,457.7 C414.3,457.3 416.0,456.9 417.6,456.6 C419.2,456.2 420.9,455.9 422.5,455.5 C424.1,455.2 425.8,454.8 427.4,454.5 C429.1,454.1 430.7,453.8 432.3,453.5 C434.0,453.2 435.6,452.8 437.3,452.5 C438.9,452.2 440.6,451.9 442.2,451.6 C443.9,451.3 445.5,451.0 447.2,450.7 C448.8,450.4 450.5,450.1 452.1,449.8 C453.8,449.5 455.4,449.2 457.1,448.9 C458.7,448.7 460.4,448.4 462.0,448.1 C463.7,447.8 465.3,447.6 467.0,447.3 C468.6,447.1 470.3,446.8 471.9,446.6 C473.6,446.3 475.3,446.1 476.9,445.8 C478.6,445.6 480.2,445.3 481.9,445.1 C483.6,444.9 485.2,444.7 486.9,444.4 C488.5,444.2 490.2,444.0 491.9,443.8 C493.5,443.6 495.2,443.3 496.8,443.1 C498.5,442.9 500.2,442.7 501.8,442.5 C503.5,442.3 505.2,442.1 506.8,441.9 C508.5,441.8 510.2,441.6 511.8,441.4 C513.5,441.2 515.1,441.0 516.8,440.8 C518.5,440.7 520.1,440.5 521.8,440.3 C523.5,440.1 525.1,440.0 526.8,439.8 C528.5,439.6 530.1,439.4 531.8,439.3 C533.5,439.1 535.1,438.9 536.8,438.8 C538.5,438.6 540.1,438.4 541.8,438.2 C543.5,438.1 545.1,437.9 546.8,437.7 C548.5,437.5 550.1,437.4 551.8,437.2 C553.5,437.0 555.1,436.8 556.8,436.7 C558.5,436.5 560.1,436.3 561.8,436.1 C563.5,435.9 565.1,435.7 566.8,435.6 C568.5,435.4 570.1,435.2 571.8,435.0 C573.5,434.8 575.1,434.6 576.8,434.4 C578.4,434.2 580.1,434.0 581.8,433.8 C583.4,433.6 585.1,433.5 586.8,433.2 C588.4,433.0 590.1,432.8 591.7,432.6 C593.4,432.4 595.1,432.1 596.7,431.8 C598.4,431.5 600.0,431.2 601.7,430.9 C603.3,430.6 604.9,430.2 606.6,429.8 C608.2,429.5 609.8,429.0 611.4,428.6 C613.1,428.2 614.7,427.7 616.3,427.2 C617.9,426.7 619.5,426.2 621.0,425.7 C622.6,425.1 624.2,424.6 625.8,424.0 C627.3,423.4 628.9,422.8 630.5,422.1 C632.0,421.5 633.5,420.8 635.1,420.1 C636.6,419.4 638.1,418.7 639.6,418.0 C641.1,417.3 642.6,416.5 644.1,415.7 C645.6,414.9 647.1,414.1 648.5,413.3 C650.0,412.5 651.4,411.6 652.8,410.8 C654.3,409.9 655.7,409.0 657.1,408.1 C658.5,407.2 659.9,406.2 661.3,405.3 C662.6,404.3 664.0,403.4 665.4,402.4 C666.7,401.4 668.0,400.3 669.3,399.3 C670.7,398.3 672.0,397.2 673.2,396.1 C674.5,395.1 675.8,394.0 677.0,392.8 C678.3,391.7 679.5,390.6 680.7,389.4 C682.0,388.3 683.1,387.1 684.3,385.9 C685.5,384.7 686.7,383.5 687.8,382.3 C688.9,381.1 690.1,379.8 691.2,378.6 C692.3,377.3 693.4,376.0 694.4,374.7 C695.5,373.4 696.5,372.1 697.6,370.8 C698.6,369.5 699.6,368.2 700.6,366.8 C701.6,365.5 702.6,364.1 703.6,362.8 C704.6,361.4 705.5,360.0 706.5,358.7 C707.4,357.3 708.4,355.9 709.3,354.5 C710.2,353.1 711.1,351.7 712.0,350.2 C712.9,348.8 713.8,347.4 714.6,346.0 C715.5,344.6 716.4,343.1 717.2,341.7 C718.1,340.2 718.9,338.8 719.8,337.3 C720.6,335.9 721.4,334.4 722.3,333.0 C723.1,331.5 723.9,330.1 724.7,328.6 C725.5,327.1 726.3,325.7 727.1,324.2 C728.0,322.7 728.7,321.2 729.5,319.8 C730.3,318.3 731.1,316.8 731.9,315.3 C732.7,313.9 733.5,312.4 734.3,310.9 C735.1,309.4 735.9,307.9 736.6,306.5 C737.4,305.0 738.2,303.5 739.0,302.0 C739.8,300.5 740.6,299.1 741.4,297.6 C742.2,296.1 743.0,294.6 743.8,293.2 C744.6,291.7 745.4,290.2 746.2,288.8 C747.0,287.3 747.8,285.8 748.6,284.4 C749.4,282.9 750.2,281.4 751.1,280.0 C751.9,278.5 752.7,277.1 753.6,275.6 C754.4,274.2 755.3,272.7 756.1,271.3 C757.0,269.9 757.9,268.4 758.7,267.0 C759.6,265.6 760.5,264.2 761.4,262.7 C762.3,261.3 763.2,259.9 764.2,258.5 C765.1,257.2 766.1,255.8 767.0,254.4 C768.0,253.0 769.0,251.7 770.0,250.4 C771.0,249.0 772.1,247.7 773.1,246.4 C774.2,245.1 775.3,243.8 776.4,242.6 C777.5,241.4 778.6,240.1 779.8,238.9 C781.0,237.7 782.2,236.6 783.4,235.4 C784.7,234.3 785.9,233.2 787.2,232.2 C788.5,231.1 789.9,230.1 791.3,229.1 C792.6,228.2 794.0,227.2 795.5,226.4 C796.9,225.5 798.3,224.7 799.8,223.9 C801.3,223.2 802.8,222.4 804.4,221.8 C805.9,221.1 807.5,220.5 809.1,220.0 C810.7,219.5 813.1,218.8 813.9,218.6" stroke="#FF0000"/>
<path d="M130.4,521.3 C131.2,521.2 133.7,520.8 135.4,520.5 C137.0,520.3 138.7,520.0 140.3,519.8 C142.0,519.6 143.6,519.3 145.3,519.1 C146.9,518.9 148.6,518.7 150.2,518.4 C151.9,518.2 153.6,518.0 155.2,517.8 C156.9,517.6 158.5,517.4 160.2,517.1 C161.9,516.9 163.5,516.7 165.2,516.5 C166.8,516.3 168.5,516.1 170.1,515.9 C171.8,515.7 173.5,515.5 175.1,515.4 C176.8,515.2 178.4,515.0 180.1,514.8 C181.8,514.6 183.4,514.4 185.1,514.2 C186.8,514.0 188.4,513.9 190.1,513.7 C191.7,513.5 193.4,513.3 195.1,513.1 C196.7,512.9 198.4,512.8 200.0,512.6 C201.7,512.4 203.4,512.2 205.0,512.0 C206.7,511.9 208.3,511.7 210.0,511.5 C211.7,511.3 213.3,511.1 215.0,511.0 C216.7,510.8 218.3,510.6 220.0,510.4 C221.6,510.2 223.3,510.0 225.0,509.8 C226.6,509.7 228.3,509.5 229.9,509.3 C231.6,509.1 233.3,508.9 234.9,508.7 C236.6,508.5 238.2,508.3 239.9,508.1 C241.6,507.9 243.2,507.7 244.9,507.5 C246.5,507.3 248.2,507.1 249.8,506.9 C251.5,506.7 253.2,506.4 254.8,506.2 C256.5,506.0 258.1,505.8 259.8,505.6 C261.4,505.4 263.1,505.1 264.8,504.9 C266.4,504.7 268.1,504.5 269.7,504.3 C271.4,504.1 273.0,503.8 274.7,503.6 C276.4,503.4 278.0,503.2 279.7,503.0 C281.3,502.8 283.0,502.6 284.7,502.4 C286.3,502.1 288.0,501.9 289.6,501.7 C291.3,501.5 292.9,501.3 294.6,501.1 C296.3,500.9 297.9,500.7 299.6,500.5 C301.2,500.3 302.9,500.1 304.6,499.9 C306.2,499.7 307.9,499.6 309.5,499.4 C311.2,499.2 312.9,499.0 314.5,498.8 C316.2,498.7 317.9,498.5 319.5,498.3 C321.2,498.2 322.8,498.0 324.5,497.9 C326.2,497.7 327.8,497.6 329.5,497.4 C331.2,497.3 332.8,497.2 334.5,497.0 C336.2,496.9 337.8,496.8 339.5,496.7 C341.2,496.6 342.8,496.5 344.5,496.4 C346.2,496.3 347.8,496.2 349.5,496.1 C351.2,496.0 352.8,495.9 354.5,495.9 C356.2,495.8 357.9,495.8 359.5,495.7 C361.2,495.6 362.9,495.6 364.5,495.6 C366.2,495.5 367.9,495.5 369.6,495.5 C371.2,495.4 372.9,495.4 374.6,495.4 C376.2,495.4 377.9,495.4 379.6,495.4 C381.3,495.4 382.9,495.4 384.6,495.5 C386.3,495.5 387.9,495.5 389.6,495.5 C391.3,495.6 392.9,495.6 394.6,495.7 C396.3,495.7 398.0,495.8 399.6,495.8 C401.3,495.9 403.0,496.0 404.6,496.1 C406.3,496.1 408.0,496.2 409.6,496.3 C411.3,496.4 413.0,496.5 414.6,496.6 C416.3,496.7 418.0,496.8 419.7,497.0 C421.3,497.1 423.0,497.2 424.6,497.4 C426.3,497.5 428.0,497.6 429.6,497.8 C431.3,497.9 433.0,498.1 434.6,498.3 C436.3,498.4 438.0,498.6 439.6,498.8 C441.3,499.0 442.9,499.2 444.6,499.4 C446.3,499.6 447.9,499.8 449.6,500.0 C451.2,500.2 452.9,500.4 454.5,500.6 C456.2,500.9 457.9,501.1 459.5,501.3 C461.2,501.6 462.8,501.8 464.5,502.1 C466.1,502.3 467.8,502.6 469.4,502.9 C471.1,503.2 472.7,503.4 474.4,503.7 C476.0,504.0 477.7,504.3 479.3,504.6 C480.9,504.9 482.6,505.2 484.2,505.5 C485.9,505.9 487.5,506.2 489.1,506.5 C490.8,506.8 492.4,507.2 494.1,507.5 C495.7,507.9 497.3,508.2 499.0,508.6 C500.6,509.0 502.2,509.3 503.8,509.7 C505.5,510.1 507.1,510.5 508.7,510.9 C510.3,511.2 512.0,511.6 513.6,512.1 C515.2,512.5 516.8,512.9 518.4,513.3 C520.1,513.7 521.7,514.2 523.3,514.6 C524.9,515.0 526.5,515.5 528.1,515.9 C529.7,516.4 531.3,516.8 532.9,517.3 C534.5,517.8 536.2,518.2 537.8,518.7 C539.4,519.2 541.0,519.6 542.6,520.1 C544.2,520.6 545.8,521.1 547.4,521.6 C549.0,522.1 550.5,522.6 552.1,523.1 C553.7,523.6 555.3,524.1 556.9,524.6 C558.5,525.1 560.1,525.6 561.7,526.1 C563.3,526.6 564.9,527.2 566.5,527.7 C568.1,528.2 569.6,528.7 571.2,529.2 C572.8,529.8 574.4,530.3 576.0,530.8 C577.6,531.3 579.2,531.9 580.7,532.4 C582.3,532.9 583.9,533.5 585.5,534.0 C587.1,534.5 588.7,535.1 590.3,535.6 C591.8,536.1 593.4,536.7 595.0,537.2 C596.6,537.7 598.2,538.2 599.8,538.8 C601.3,539.3 602.9,539.8 604.5,540.4 C606.1,540.9 607.7,541.4 609.3,541.9 C610.9,542.5 612.4,543.0 614.0,543.5 C615.6,544.0 617.2,544.6 618.8,545.1 C620.4,545.6 622.0,546.1 623.6,546.6 C625.2,547.1 626.7,547.6 628.3,548.1 C629.9,548.6 631.5,549.2 633.1,549.6 C634.7,550.1 636.3,550.6 637.9,551.1 C639.5,551.6 641.1,552.1 642.7,552.6 C644.3,553.1 645.9,553.5 647.5,554.0 C649.1,554.5 650.7,554.9 652.3,555.4 C653.9,555.9 655.6,556.3 657.2,556.7 C658.8,557.2 660.4,557.6 662.0,558.0 C663.6,558.4 665.3,558.8 666.9,559.2 C668.5,559.6 670.1,560.0 671.8,560.3 C673.4,560.6 675.1,561.0 676.7,561.3 C678.3,561.6 680.0,561.8 681.6,562.1 C683.3,562.3 685.0,562.5 686.6,562.7 C688.3,562.9 689.9,563.0 691.6,563.2 C693.3,563.3 694.9,563.3 696.6,563.4 C698.3,563.4 700.0,563.4 701.6,563.3 C703.3,563.3 705.0,563.2 706.6,563.0 C708.3,562.9 710.0,562.7 711.6,562.4 C713.3,562.2 714.9,561.9 716.6,561.6 C718.2,561.2 719.8,560.9 721.4,560.5 C723.1,560.1 724.7,559.6 726.3,559.1 C727.9,558.7 729.5,558.2 731.1,557.6 C732.6,557.1 734.2,556.5 735.8,555.9 C737.3,555.3 738.9,554.7 740.4,554.0 C742.0,553.4 743.5,552.7 745.0,552.0 C746.5,551.3 748.0,550.5 749.5,549.8 C751.0,549.0 752.5,548.3 754.0,547.5 C755.4,546.7 756.9,545.9 758.3,545.1 C759.8,544.2 761.2,543.4 762.7,542.5 C764.1,541.7 765.5,540.8 766.9,539.9 C768.4,539.0 769.8,538.1 771.2,537.2 C772.6,536.3 773.9,535.3 775.3,534.4 C776.7,533.4 778.1,532.5 779.4,531.5 C780.8,530.5 782.1,529.6 783.5,528.6 C784.8,527.6 786.2,526.6 787.5,525.6 C788.8,524.6 790.1,523.5 791.5,522.5 C792.8,521.5 794.1,520.4 795.4,519.4 C796.7,518.3 798.0,517.3 799.3,516.2 C800.6,515.1 801.8,514.1 803.1,513.0 C804.4,511.9 805.7,510.8 806.9,509.7 C808.2,508.7 809.5,507.6 810.7,506.5 C812.0,505.4 813.2,504.3 814.5,503.1 C815.7,502.0 817.0,500.9 818.2,499.8 C819.5,498.7 820.7,497.6 821.9,496.4 C823.2,495.3 824.4,494.2 825.6,493.0 C826.8,491.9 828.1,490.8 829.3,489.6 C830.5,488.5 831.7,487.3 832.9,486.1 C834.1,485.0 835.3,483.8 836.5,482.6 C837.6,481.4 838.8,480.2 840.0,479.0 C841.1,477.8 842.3,476.6 843.4,475.4 C844.6,474.2 845.7,473.0 846.8,471.7 C848.0,470.5 849.1,469.2 850.2,468.0 C851.2,466.7 852.3,465.4 853.4,464.1 C854.5,462.9 855.5,461.6 856.6,460.2 C857.6,458.9 858.6,457.6 859.6,456.3 C860.6,455.0 861.6,453.6 862.6,452.3 C863.6,450.9 864.6,449.5 865.5,448.2 C866.5,446.8 867.4,445.4 868.3,444.0 C869.3,442.6 870.2,441.2 871.1,439.8 C872.0,438.4 872.9,437.0 873.7,435.6 C874.6,434.2 875.5,432.7 876.3,431.3 C877.2,429.8 878.0,428.4 878.8,426.9 C879.7,425.5 880.5,424.0 881.3,422.6 C882.1,421.1 882.9,419.6 883.7,418.2 C884.4,416.7 885.2,415.2 886.0,413.7 C886.7,412.2 887.5,410.7 888.2,409.2 C889.0,407.7 889.7,406.2 890.4,404.7 C891.2,403.2 891.9,401.7 892.6,400.2 C893.3,398.7 894.0,397.2 894.7,395.6 C895.3,394.1 896.0,392.6 896.7,391.1 C897.4,389.5 898.0,388.0 898.7,386.5 C899.3,384.9 900.0,383.4 900.6,381.8 C901.3,380.3 901.9,378.7 902.5,377.2 C903.2,375.6 903.8,374.1 904.4,372.5 C905.0,371.0 905.6,369.4 906.2,367.9 C906.8,366.3 907.4,364.7 908.0,363.2 C908.6,361.6 909.2,360.1 909.8,358.5 C910.4,356.9 910.9,355.4 911.5,353.8 C912.1,352.2 912.7,350.6 913.2,349.1 C913.8,347.5 914.3,345.9 914.9,344.4 C915.5,342.8 916.0,341.2 916.6,339.6 C917.1,338.0 917.6,336.5 918.2,334.9 C918.7,333.3 919.3,331.7 919.8,330.1 C920.3,328.5 920.9,327.0 921.4,325.4 C921.9,323.8 922.4,322.2 923.0,320.6 C923.5,319.0 924.0,317.4 924.5,315.8 C925.0,314.3 925.5,312.7 926.0,311.1 C926.5,309.5 927.1,307.9 927.6,306.3 C928.1,304.7 928.6,303.1 929.1,301.5 C929.6,299.9 930.1,298.3 930.5,296.7 C931.0,295.1 931.5,293.5 932.0,291.9 C932.5,290.3 933.0,288.7 933.5,287.1 C934.0,285.5 934.5,283.9 934.9,282.3 C935.4,280.7 935.9,279.1 936.4,277.5 C936.9,275.9 937.3,274.3 937.8,272.7 C938.3,271.1 938.8,269.5 939.3,267.9 C939.7,266.3 940.2,264.7 940.7,263.1 C941.2,261.5 941.6,259.9 942.1,258.3 C942.6,256.7 943.1,255.1 943.5,253.5 C944.0,251.9 944.5,250.3 945.0,248.7 C945.4,247.1 945.9,245.5 946.4,243.9 C946.9,242.3 947.3,240.7 947.8,239.1 C948.3,237.5 948.8,235.9 949.2,234.3 C949.7,232.7 950.2,231.1 950.7,229.5 C951.2,227.9 951.6,226.3 952.1,224.7 C952.6,223.1 953.1,221.5 953.6,219.9 C954.1,218.3 954.5,216.7 955.0,215.1 C955.5,213.5 956.0,211.9 956.5,210.3 C957.0,208.7 957.5,207.1 958.0,205.5 C958.5,203.9 959.0,202.3 959.5,200.7 C960.0,199.1 960.5,197.5 961.0,195.9 C961.5,194.3 962.0,192.7 962.5,191.2 C963.0,189.6 963.5,188.0 964.0,186.4 C964.5,184.8 965.1,183.2 965.6,181.6 C966.1,180.0 966.6,178.4 967.1,176.9 C967.7,175.3 968.2,173.7 968.7,172.1 C969.3,170.5 969.8,168.9 970.4,167.4 C970.9,165.8 971.4,164.2 972.0,162.6 C972.5,161.0 973.1,159.5 973.7,157.9 C974.2,156.3 974.8,154.7 975.3,153.2 C975.9,151.6 976.5,150.0 977.1,148.5 C977.6,146.9 978.2,145.3 978.8,143.8 C979.4,142.2 980.0,140.6 980.6,139.1 C981.2,137.5 981.8,135.9 982.4,134.4 C983.0,132.8 983.6,131.3 984.2,129.7 C984.8,128.2 985.4,126.6 986.1,125.1 C986.7,123.5 987.3,122.0 988.0,120.4 C988.6,118.9 989.3,117.3 989.9,115.8 C990.6,114.3 991.2,112.7 991.9,111.2 C992.5,109.7 993.2,108.1 993.9,106.6 C994.6,105.1 995.3,103.5 995.9,102.0 C996.6,100.5 997.3,99.0 998.0,97.5 C998.7,95.9 999.4,94.4 1000.2,92.9 C1000.9,91.4 1002.0,89.2 1002.3,88.4" stroke="#0000FF"/>
</g>
<path d="M129.0,780.0V769.5 M164.4,780.0V769.5 M193.3,780.0V769.5 M217.7,780.0V769.5 M238.8,780.0V769.5 M257.5,780.0V769.5 M274.2,780.0V760.0 M384.1,780.0V769.5 M448.3,780.0V769.5 M493.9,780.0V769.5 M529.3,780.0V769.5 M558.2,780.0V769.5 M582.6,780.0V769.5 M603.7,780.0V769.5 M622.4,780.0V769.5 M639.1,780.0V760.0 M748.9,780.0V769.5 M813.2,780.0V769.5 M858.8,780.0V769.5 M894.2,780.0V769.5 M923.0,780.0V769.5 M947.5,780.0V769.5 M968.6,780.0V769.5 M987.3,780.0V769.5 M129.0,760.2H139.5 M1004.0,760.2H993.5 M129.0,720.7H139.5 M1004.0,720.7H993.5 M129.0,681.1H149.0 M1004.0,681.1H984.0 M129.0,641.5H139.5 M1004.0,641.5H993.5 M129.0,602.0H139.5 M1004.0,602.0H993.5 M129.0,562.4H139.5 M1004.0,562.4H993.5 M129.0,522.9H139.5 M1004.0,522.9H993.5 M129.0,483.3H149.0 M1004.0,483.3H984.0 M129.0,443.7H139.5 M1004.0,443.7H993.5 M129.0,404.2H139.5 M1004.0,404.2H993.5 M129.0,364.6H139.5 M1004.0,364.6H993.5 M129.0,325.1H139.5 M1004.0,325.1H993.5 M129.0,285.5H149.0 M1004.0,285.5H984.0 M129.0,245.9H139.5 M1004.0,245.9H993.5 M129.0,206.4H139.5 M1004.0,206.4H993.5 M129.0,166.8H139.5 M1004.0,166.8H993.5 M129.0,127.3H139.5 M1004.0,127.3H993.5 M129.0,87.7H149.0 M1004.0,87.7H984.0 M276.1,87.7V98.2 M372.5,87.7V98.2 M440.9,87.7V98.2 M493.9,87.7V98.2 M537.3,87.7V98.2 M573.9,87.7V98.2 M605.7,87.7V98.2 M633.7,87.7V98.2 M658.7,87.7V107.7 M823.5,87.7V98.2 M919.9,87.7V98.2 M988.3,87.7V98.2" stroke="#000" stroke-width="2.2" fill="none"/>
<rect x="129.0" y="87.7" width="875.0" height="692.3" fill="none" stroke="#000" stroke-width="2.2" stroke-linejoin="round"/>

<g font-size="38" fill="#000">
<text x="107.5" y="98.5" text-anchor="end">2.0</text>
<text x="107.5" y="296" text-anchor="end">1.5</text>
<text x="107.5" y="494.2" text-anchor="end">1.0</text>
<text x="107.5" y="692.1" text-anchor="end">0.5</text>
<text x="272.5" y="830.1" text-anchor="middle">0.1</text>
<text x="384.3" y="830.1" text-anchor="middle" fill="#FF0000">0.2</text>
<text x="639" y="830.1" text-anchor="middle">1</text>
<text x="1004.5" y="830.1" text-anchor="middle">10</text>
<text x="372.7" y="64.8" text-anchor="middle" fill="#FF0000">0.3</text>
<text x="658.7" y="64.8" text-anchor="middle">1.0</text>
<text x="519.5" y="28" font-size="37.5">(MeV)</text>
</g>
<text x="465.8" y="27.8" font-size="48" font-weight="bold" font-style="italic">E</text>
<text x="494.5" y="42.6" font-size="32" font-weight="bold">0</text>
<text x="547" y="862.9" font-size="42" font-weight="bold" font-style="italic">T</text>
<text x="572.5" y="877.5" font-size="30" font-weight="bold" font-style="italic">9</text>
<text x="183" y="329.8" fill="#00FFFF" font-size="35">NACRE</text>
<text x="189.5" y="588.2" fill="#00FF00" font-size="32.4">NACRE II</text>
<text x="566.5" y="252.8" fill="#FF0000" font-size="31.8">Katsuma 2012</text>
<text x="648.5" y="445.5" fill="#FF00FF" font-size="32.2">Buchmann 1996</text>
<text x="570.3" y="522.6" fill="#0000FF" font-size="32.2">Kunz et al. 2002</text>
<text x="656.8" y="732" fill="#800000" font-size="33">CF88</text>
<text x="164.8" y="471" fill="#000" font-size="32">This work</text>
<g transform="translate(41,566) rotate(-90)">
<path d="M21.9,-21.3L2.7,-12.9L21.9,-4.5 M68.7,-21.3L88.5,-12.9L68.7,-4.5 M103.2,0.5L111.6,-26.3 M145.8,-21.3L124.7,-12.9L145.8,-4.5 M192.3,-21.3L212.7,-12.9L192.3,-4.5" stroke="#000" stroke-width="2.4" fill="none" stroke-linejoin="miter"/>
<text transform="translate(23.69,0) scale(1.25,1)" font-weight="bold" font-size="36.0">&#963;</text><text transform="translate(48.96,0.6) scale(0.88,1)" font-weight="bold" font-style="italic" font-size="42.6">&#957;</text><text transform="translate(147.39,0) scale(1.25,1)" font-weight="bold" font-size="36.0">&#963;</text><text transform="translate(172.96,0.6) scale(0.88,1)" font-weight="bold" font-style="italic" font-size="42.6">&#957;</text>
<text x="214" y="-22.7" font-size="26.9" font-weight="bold">This work</text>
</g>

</svg></body></html>
